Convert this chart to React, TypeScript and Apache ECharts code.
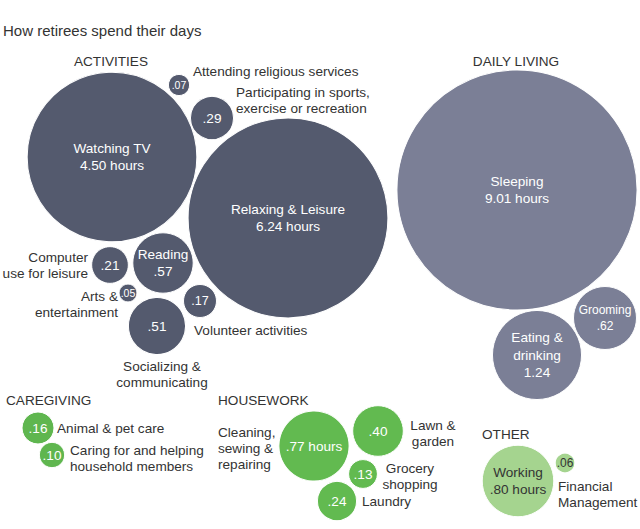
import React, { useEffect, useRef } from "react";
import * as echarts from "echarts";

// ---- data (hours per day) ----
const activityNames = [
  "Watching TV",
  "Relaxing & Leisure",
  "Attending religious services",
  "Participating in sports, exercise or recreation",
  "Reading",
  "Computer use for leisure",
  "Arts & entertainment",
  "Volunteer activities",
  "Socializing & communicating",
];
const activityHours = [4.5, 6.24, 0.07, 0.29, 0.57, 0.21, 0.05, 0.17, 0.51];

const dailyNames = ["Sleeping", "Eating & drinking", "Grooming"];
const dailyHours = [9.01, 1.24, 0.62];

const caregivingNames = ["Animal & pet care", "Caring for and helping household members"];
const caregivingHours = [0.16, 0.1];

const houseworkNames = ["Cleaning, sewing & repairing", "Lawn & garden", "Grocery shopping", "Laundry"];
const houseworkHours = [0.77, 0.4, 0.13, 0.24];

const otherNames = ["Working", "Financial Management"];
const otherHours = [0.8, 0.06];

// ---- layout (pixel positions of bubbles, inner label style) ----
type Lay = { x: number; y: number; inner: string; fs?: number; dark?: boolean };
const layout: Record<string, Lay> = {
  "Watching TV": { x: 112, y: 157, inner: "nameHours" },
  "Relaxing & Leisure": { x: 288, y: 218, inner: "nameHours" },
  "Attending religious services": { x: 179, y: 85, inner: "value", fs: 10.5 },
  "Participating in sports, exercise or recreation": { x: 212, y: 118, inner: "value" },
  "Reading": { x: 163, y: 263, inner: "nameValue" },
  "Computer use for leisure": { x: 110, y: 265, inner: "value" },
  "Arts & entertainment": { x: 128, y: 293, inner: "value", fs: 10.5 },
  "Volunteer activities": { x: 200, y: 301, inner: "value", fs: 12.5 },
  "Socializing & communicating": { x: 157, y: 326, inner: "value" },
  "Sleeping": { x: 517, y: 190, inner: "nameHours" },
  "Eating & drinking": { x: 537, y: 355, inner: "eating" },
  "Grooming": { x: 605, y: 318, inner: "nameValue", fs: 12 },
  "Animal & pet care": { x: 38, y: 428, inner: "value" },
  "Caring for and helping household members": { x: 52, y: 455, inner: "value" },
  "Cleaning, sewing & repairing": { x: 314, y: 446, inner: "hours" },
  "Lawn & garden": { x: 378, y: 431, inner: "value" },
  "Grocery shopping": { x: 363, y: 474, inner: "value" },
  "Laundry": { x: 337, y: 501, inner: "value" },
  "Working": { x: 518, y: 481, inner: "nameHours", dark: true },
  "Financial Management": { x: 565, y: 463, inner: "value", fs: 12, dark: true },
};

const fmt = (v: number) => (v < 1 ? "." + v.toFixed(2).slice(2) : v.toFixed(2));
const innerText = (name: string, v: number) => {
  const mode = layout[name].inner;
  if (mode === "nameHours") return name + "\n" + fmt(v) + " hours";
  if (mode === "nameValue") return name + "\n" + fmt(v);
  if (mode === "hours") return fmt(v) + " hours";
  if (mode === "eating") return "Eating &\ndrinking\n" + fmt(v);
  return fmt(v);
};

const FONT = "Liberation Sans, Arial, sans-serif";
const TEXT = "#333333";
const FS = 13.6;

function makeSeries(names: string[], hours: number[], color: string) {
  return {
    type: "scatter",
    coordinateSystem: "cartesian2d",
    symbol: "circle",
    symbolSize: (val: number[]) => 80 * Math.sqrt(val[2]),
    itemStyle: { color, opacity: 1, borderColor: "#ffffff", borderWidth: 1 },
    emphasis: { disabled: true },
    data: names.map((n, i) => {
      const l = layout[n];
      const fs = l.fs || FS;
      return {
        name: n,
        value: [l.x, l.y, hours[i]],
        label: {
          show: true,
          position: "inside",
          formatter: innerText(n, hours[i]),
          color: l.dark ? TEXT : "#ffffff",
          fontSize: fs,
          lineHeight: fs + 4,
          fontFamily: FONT,
        },
      };
    }),
  };
}

type T = { text: string; x: number; y: number; align?: string };
const outerLabels: T[] = [
  { text: "Attending religious services", x: 193, y: 71 },
  { text: "Participating in sports,\nexercise or recreation", x: 236, y: 100 },
  { text: "Computer\nuse for leisure", x: 88, y: 265, align: "right" },
  { text: "Arts &\nentertainment", x: 118, y: 304, align: "right" },
  { text: "Volunteer activities", x: 194, y: 330 },
  { text: "Socializing &\ncommunicating", x: 162, y: 374, align: "center" },
  { text: "Animal & pet care", x: 57, y: 428 },
  { text: "Caring for and helping\nhousehold members", x: 70, y: 458 },
  { text: "Cleaning,\nsewing &\nrepairing", x: 218, y: 448 },
  { text: "Lawn &\ngarden", x: 433, y: 433, align: "center" },
  { text: "Grocery\nshopping", x: 410, y: 476, align: "center" },
  { text: "Laundry", x: 362, y: 501 },
  { text: "Financial\nManagement", x: 558, y: 494 },
];
const headers: T[] = [
  { text: "ACTIVITIES", x: 111, y: 61, align: "center" },
  { text: "DAILY LIVING", x: 516, y: 61, align: "center" },
  { text: "CAREGIVING", x: 6, y: 400 },
  { text: "HOUSEWORK", x: 218, y: 400 },
  { text: "OTHER", x: 482, y: 434 },
];

export default function App() {
  const ref = useRef<HTMLDivElement>(null);
  useEffect(() => {
    if (!ref.current) return;
    const chart = echarts.init(ref.current, null, { renderer: "svg" });
    const textEl = (t: T) => ({
      type: "text",
      x: t.x,
      y: t.y,
      silent: true,
      z: 10,
      style: {
        text: t.text,
        fill: TEXT,
        font: FS + "px " + FONT,
        lineHeight: 16,
        align: t.align || "left",
        verticalAlign: "middle",
      },
    });
    chart.setOption({
      animation: false,
      backgroundColor: "#ffffff",
      title: {
        text: "How retirees spend their days",
        left: 3,
        top: 23,
        padding: 0,
        textStyle: { fontSize: 15, fontWeight: "normal", color: TEXT, fontFamily: FONT },
      },
      grid: { left: 0, right: 0, top: 0, bottom: 0 },
      xAxis: { type: "value", min: 0, max: 640, show: false },
      yAxis: { type: "value", min: 0, max: 529, inverse: true, show: false },
      graphic: [...outerLabels.map(textEl), ...headers.map(textEl)],
      series: [
        makeSeries(activityNames, activityHours, "#545a6e"),
        makeSeries(dailyNames, dailyHours, "#7b7f96"),
        makeSeries(caregivingNames, caregivingHours, "#5fb64f"),
        makeSeries(houseworkNames, houseworkHours, "#62ba50"),
        makeSeries(otherNames, otherHours, "#a5d48f"),
      ],
    });
    return () => chart.dispose();
  }, []);
  return (
    <div
      ref={ref}
      style={{ position: "fixed", left: 0, top: 0, width: 640, height: 529, background: "#fff" }}
    />
  );
}
